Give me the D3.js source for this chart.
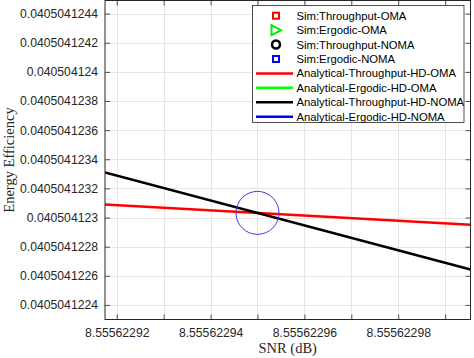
<!DOCTYPE html>
<html><head><meta charset="utf-8">
<script src="https://cdn.jsdelivr.net/npm/d3@7"></script>
<style>html,body{margin:0;padding:0;background:#fff;}svg{display:block;}</style>
</head><body>
<svg id="c" width="474" height="358"></svg>
<script>
// ---- data ----
const xDomain = [8.5556229175, 8.5556229954];
const yDomain = [0.0405041223, 0.04050412449];
const xTicks = [8.55562292, 8.55562293, 8.55562294, 8.55562295, 8.55562296, 8.55562297, 8.55562298, 8.55562299];
const xTickLabels = ["8.55562292", "", "8.55562294", "", "8.55562296", "", "8.55562298", ""];
const yTicks = [0.0405041224, 0.0405041226, 0.0405041228, 0.040504123, 0.0405041232, 0.0405041234,
                0.0405041236, 0.0405041238, 0.040504124, 0.0405041242, 0.0405041244];
const yTickLabels = ["0.0405041224", "0.0405041226", "0.0405041228", "0.040504123", "0.0405041232", "0.0405041234",
                     "0.0405041236", "0.0405041238", "0.040504124", "0.0405041242", "0.0405041244"];
const snr = [8.5556229175, 8.5556229954];
const thrOMA = [0.04050412309, 0.04050412295];
const thrNOMA = [0.040504123309, 0.040504122643];
const simErgNOMA = {x: 8.55562295, y: 0.040504123032};
const legendLabels = ["Sim:Throughput-OMA", "Sim:Ergodic-OMA", "Sim:Throughput-NOMA", "Sim:Ergodic-NOMA",
  "Analytical-Throughput-HD-OMA", "Analytical-Ergodic-HD-OMA", "Analytical-Throughput-HD-NOMA", "Analytical-Ergodic-HD-NOMA"];
const legendColors = ["#ff0000", "#00ee00", "#000000", "#0000ff", "#ff0000", "#00ff00", "#000000", "#0000ff"];
const legendKinds = ["square", "triangle", "circle", "square", "line", "line", "line", "line"];

// ---- layout ----
const L = 105, R = 470.5, T = 0.5, B = 319.5;
const svg = d3.select("#c");
const x = d3.scaleLinear().domain(xDomain).range([L, R]);
const y = d3.scaleLinear().domain(yDomain).range([B, T]);
const axisColor = "#262626";
const tickFont = "'Liberation Sans', Arial, sans-serif";

// grid
const g = svg.append("g");
g.selectAll(".vg").data(xTicks).join("line")
  .attr("x1", d => Math.round(x(d)) + 0.5).attr("x2", d => Math.round(x(d)) + 0.5)
  .attr("y1", T).attr("y2", B).attr("stroke", "#e6e6e6").attr("stroke-width", 1);
g.selectAll(".hg").data(yTicks).join("line")
  .attr("y1", d => Math.round(y(d)) + 0.5).attr("y2", d => Math.round(y(d)) + 0.5)
  .attr("x1", L).attr("x2", R).attr("stroke", "#e6e6e6").attr("stroke-width", 1);

// clip
svg.append("clipPath").attr("id", "clip").append("rect")
  .attr("x", L).attr("y", T).attr("width", R - L).attr("height", B - T);
const plot = svg.append("g").attr("clip-path", "url(#clip)");
const line = d3.line().x(d => x(d[0])).y(d => y(d[1]));
plot.append("path").datum(snr.map((s, i) => [s, thrOMA[i]])).attr("d", line)
  .attr("fill", "none").attr("stroke", "#ff0000").attr("stroke-width", 2.5);
plot.append("path").datum(snr.map((s, i) => [s, thrNOMA[i]])).attr("d", line)
  .attr("fill", "none").attr("stroke", "#000000").attr("stroke-width", 2.5);
plot.append("circle").attr("cx", x(simErgNOMA.x)).attr("cy", y(simErgNOMA.y)).attr("r", 21.5)
  .attr("fill", "none").attr("stroke", "#3c3ce6").attr("stroke-width", 1);

// axes
const xAxis = d3.axisBottom(x).tickValues(xTicks).tickFormat((d, i) => xTickLabels[i]).tickSizeInner(-5).tickSizeOuter(0).tickPadding(8.5);
const xa = svg.append("g").attr("transform", `translate(0,${B})`).call(xAxis);
const xAxisTop = d3.axisTop(x).tickValues(xTicks).tickFormat("").tickSizeInner(-5).tickSizeOuter(0);
const xt = svg.append("g").attr("transform", `translate(0,${T})`).call(xAxisTop);
const yAxis = d3.axisLeft(y).tickValues(yTicks).tickFormat((d, i) => yTickLabels[i]).tickSizeInner(-5).tickSizeOuter(0).tickPadding(7);
const ya = svg.append("g").attr("transform", `translate(${L},0)`).call(yAxis);
const yAxisR = d3.axisRight(y).tickValues(yTicks).tickFormat("").tickSizeInner(-5).tickSizeOuter(0);
const yr = svg.append("g").attr("transform", `translate(${R},0)`).call(yAxisR);
[xa, xt, ya, yr].forEach(a => {
  a.select(".domain").remove();
  a.selectAll(".tick line").attr("stroke", axisColor).attr("stroke-width", 0.8);
  a.selectAll("text").attr("fill", axisColor).style("font-family", tickFont).style("font-size", "12.2px");
});
svg.append("rect").attr("x", L).attr("y", T).attr("width", R - L).attr("height", B - T)
  .attr("fill", "none").attr("stroke", axisColor).attr("stroke-width", 1);

// axis labels
svg.append("text").attr("x", (L + R) / 2).attr("y", 353).attr("text-anchor", "middle")
  .style("font-family", "'Liberation Serif', 'Times New Roman', serif").style("font-size", "14.5px")
  .attr("fill", axisColor).text("SNR (dB)");
svg.append("text").attr("transform", `translate(14,${(T + B) / 2}) rotate(-90)`).attr("text-anchor", "middle")
  .style("font-family", "'Liberation Serif', 'Times New Roman', serif").style("font-size", "14.5px")
  .attr("fill", axisColor).text("Energy Efficiency");

// legend
const lg = svg.append("g");
lg.append("rect").attr("x", 252.5).attr("y", 5.5).attr("width", 211.5).attr("height", 117)
  .attr("fill", "#fff").attr("stroke", axisColor).attr("stroke-width", 0.8);
const rowY = i => 15.7 + i * 14.43;
legendLabels.forEach((lab, i) => {
  const cy = rowY(i), c = legendColors[i], k = legendKinds[i];
  if (k === "line") {
    lg.append("line").attr("x1", 256).attr("x2", 293).attr("y1", cy).attr("y2", cy)
      .attr("stroke", c).attr("stroke-width", 2.5);
  } else if (k === "square") {
    lg.append("rect").attr("x", 273).attr("y", cy - 3).attr("width", 6).attr("height", 6)
      .attr("fill", "none").attr("stroke", c).attr("stroke-width", 2);
  } else if (k === "triangle") {
    lg.append("path").attr("d", `M${271.5},${cy - 5} L${281},${cy} L${271.5},${cy + 5} Z`)
      .attr("fill", "none").attr("stroke", c).attr("stroke-width", 2);
  } else if (k === "circle") {
    lg.append("circle").attr("cx", 276).attr("cy", cy).attr("r", 4)
      .attr("fill", "none").attr("stroke", c).attr("stroke-width", 2.5);
  }
  lg.append("text").attr("x", 296.5).attr("y", cy).attr("dy", "0.36em")
    .style("font-family", tickFont).style("font-size", "11.3px").attr("fill", "#000").text(lab);
});
</script>
</body></html>
